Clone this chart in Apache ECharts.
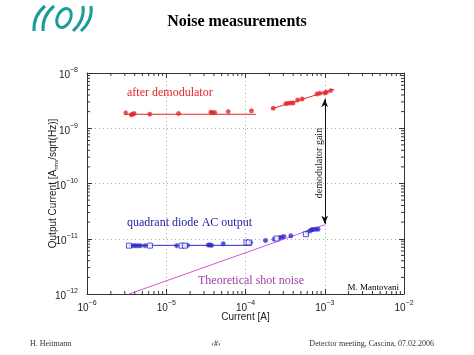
<!DOCTYPE html>
<html><head><meta charset="utf-8">
<script src="https://cdn.jsdelivr.net/npm/echarts@6/dist/echarts.min.js"></script>
<style>html,body{margin:0;padding:0;background:#fff}#c{width:474px;height:355px}</style>
</head><body><div id="c"></div>
<script>
// ---- data ----
const redLowX = [3.08e-6, 3.62e-6, 3.78e-6, 3.92e-6, 6.2e-6, 1.43e-5, 3.66e-5, 3.85e-5, 4.1e-5, 6.05e-5, 1.19e-4];
const redLowY = [1.9e-9, 1.75e-9, 1.8e-9, 1.85e-9, 1.8e-9, 1.85e-9, 1.95e-9, 1.92e-9, 1.92e-9, 2.0e-9, 2.08e-9];
const redHighX = [2.24e-4, 3.23e-4, 3.45e-4, 3.73e-4, 3.99e-4, 4.54e-4, 5.19e-4, 8.0e-4, 8.67e-4, 1.0e-3, 1.05e-3, 1.19e-3];
const redHighY = [2.3e-9, 2.79e-9, 2.83e-9, 2.87e-9, 2.87e-9, 3.25e-9, 3.39e-9, 4.17e-9, 4.3e-9, 4.35e-9, 4.48e-9, 4.8e-9];
const redFit1X = [3.0e-6, 1.35e-4];
const redFit1Y = [1.79e-9, 1.79e-9];
const redFit2X = [2.1e-4, 1.31e-3];
const redFit2Y = [2.23e-9, 5.07e-9];
const blueSqX = [3.39e-6, 6.22e-6, 1.56e-5, 1.72e-5, 1.03e-4, 1.10e-4, 2.47e-4, 5.78e-4];
const blueSqY = [7.5e-12, 7.5e-12, 7.5e-12, 7.5e-12, 8.55e-12, 8.55e-12, 1.01e-11, 1.21e-11];
const blueStX = [3.66e-6, 3.92e-6, 4.15e-6, 4.44e-6, 4.76e-6, 5.39e-6, 1.35e-5, 1.86e-5, 3.39e-5, 3.56e-5, 3.74e-5, 5.24e-5, 1.16e-4, 1.79e-4, 2.30e-4, 2.66e-4, 2.85e-4, 3.05e-4, 3.73e-4, 6.0e-4, 6.49e-4, 6.82e-4, 7.14e-4, 7.73e-4, 8.26e-4];
const blueStY = [7.5e-12, 7.5e-12, 7.5e-12, 7.5e-12, 7.5e-12, 7.5e-12, 7.5e-12, 7.6e-12, 7.7e-12, 7.7e-12, 7.6e-12, 8.1e-12, 8.55e-12, 9.3e-12, 9.85e-12, 1.04e-11, 1.07e-11, 1.10e-11, 1.13e-11, 1.29e-11, 1.39e-11, 1.45e-11, 1.47e-11, 1.49e-11, 1.49e-11];
const blueFitX = [3.3e-6, 1.2e-4];
const blueFitY = [7.6e-12, 7.6e-12];
const shotX = [3.4e-6, 1.0e-3];
const shotY = [1.0e-12, 1.8e-11];
const gainX = [1.0e-3, 1.0e-3];
const gainY = [1.86e-11, 3.4e-9];

const pairs = (xs, ys) => xs.map((x, i) => [x, ys[i]]);
const SANS = 'Liberation Sans';
const SERIF = 'Liberation Serif';
const RED = '#e3262b', BLUE = '#2a2ad0', MAG = '#d653d6';
const TEAL = '#1a9c9c';
const ASTER = 'path://M5,0L5,10M0,5L10,5M1.5,1.5L8.5,8.5M8.5,1.5L1.5,8.5';

function tickFmt(v) {
  const e = Math.round(Math.log10(v));
  return '{b|10}{s|' + String(e).replace('-', '\u2212') + '}';
}
const tickRich = {
  b: {fontFamily: SANS, fontSize: 10, color: '#222', padding: [5, 0, 0, 0]},
  s: {fontFamily: SANS, fontSize: 7, color: '#222', padding: [0, 0, 5, 0]}
};

// minor tick positions (2..9 per decade)
const minorX = [], minorY = [];
for (let d = -6; d < -2; d++) for (let k = 2; k <= 9; k++) minorX.push(k * Math.pow(10, d));
for (let d = -12; d < -8; d++) for (let k = 2; k <= 9; k++) minorY.push(k * Math.pow(10, d));

const chart = echarts.init(document.getElementById('c'), null, {renderer: 'canvas'});
const grid = {left: 87, top: 73, width: 317, height: 221};

const axisCommon = {
  type: 'log', logBase: 10,
  axisLine: {show: true, lineStyle: {color: '#333', width: 1}},
  axisTick: {show: true, inside: true, length: 5, lineStyle: {color: '#333'}},
};

const logoStroke = {stroke: TEAL, lineWidth: 3, fill: null, lineCap: 'butt'};

const option = {
  backgroundColor: '#fff',
  animation: false,
  grid: grid,
  xAxis: [
    Object.assign({}, axisCommon, {
      min: 1e-6, max: 1e-2, position: 'bottom',
      name: 'Current [A]', nameLocation: 'middle', nameGap: 18, nameMoveOverlap: false,
      nameTextStyle: {fontFamily: SANS, fontSize: 10, color: '#222'},
      axisLabel: {formatter: tickFmt, rich: tickRich, margin: 4},
      splitLine: {show: true, lineStyle: {color: '#aaa', type: [1, 3]}}
    }),
    Object.assign({}, axisCommon, {
      min: 1e-6, max: 1e-2, position: 'top',
      axisLabel: {show: false}, splitLine: {show: false}
    })
  ],
  yAxis: [
    Object.assign({}, axisCommon, {
      min: 1e-12, max: 1e-8, position: 'left',
      name: 'Output Current [A{sub|rms}/sqrt(Hz)]', nameLocation: 'middle', nameGap: 28, nameRotate: 90,
      nameMoveOverlap: false,
      nameTextStyle: {fontFamily: SANS, fontSize: 10, color: '#222',
        rich: {sub: {fontFamily: SANS, fontSize: 6, color: '#222', padding: [6, 0, 0, 0]}}},
      axisLabel: {formatter: tickFmt, rich: tickRich, margin: 9},
      splitLine: {show: true, lineStyle: {color: '#aaa', type: [1, 3]}}
    }),
    Object.assign({}, axisCommon, {
      min: 1e-12, max: 1e-8, position: 'right',
      axisLabel: {show: false}, splitLine: {show: false}
    })
  ],
  series: [
    {
      type: 'custom', silent: true, z: 1,
      data: minorX.map(v => [v, 0]).concat(minorY.map(v => [0, v])),
      encode: {x: -1, y: -1},
      renderItem: function (params, api) {
        const cs = params.coordSys;
        const xv = api.value(0), yv = api.value(1);
        const st = {stroke: '#333', lineWidth: 1};
        if (xv > 0) {
          const px = api.coord([xv, 1e-10])[0];
          return {type: 'group', children: [
            {type: 'line', shape: {x1: px, y1: cs.y + cs.height, x2: px, y2: cs.y + cs.height - 3}, style: st},
            {type: 'line', shape: {x1: px, y1: cs.y, x2: px, y2: cs.y + 3}, style: st}
          ]};
        } else {
          const py = api.coord([1e-4, yv])[1];
          return {type: 'group', children: [
            {type: 'line', shape: {x1: cs.x, y1: py, x2: cs.x + 3, y2: py}, style: st},
            {type: 'line', shape: {x1: cs.x + cs.width, y1: py, x2: cs.x + cs.width - 3, y2: py}, style: st}
          ]};
        }
      }
    },
    {type: 'line', data: pairs(shotX, shotY), showSymbol: false, lineStyle: {color: MAG, width: 1}, z: 2},
    {type: 'line', data: pairs(redFit1X, redFit1Y), showSymbol: false, lineStyle: {color: RED, width: 1}, z: 3},
    {type: 'line', data: pairs(redFit2X, redFit2Y), showSymbol: false, lineStyle: {color: RED, width: 1}, z: 3},
    {type: 'line', data: pairs(blueFitX, blueFitY), showSymbol: false, lineStyle: {color: BLUE, width: 1}, z: 3},
    {type: 'scatter', data: pairs(redLowX, redLowY).concat(pairs(redHighX, redHighY)), symbol: ASTER, symbolSize: 5,
      itemStyle: {color: RED, borderColor: RED, borderWidth: 1.3}, z: 4},
    {type: 'scatter', data: pairs(blueStX, blueStY), symbol: ASTER, symbolSize: 5,
      itemStyle: {color: BLUE, borderColor: BLUE, borderWidth: 1.3}, z: 4},
    {type: 'scatter', data: pairs(blueSqX, blueSqY), symbol: 'rect', symbolSize: 5,
      itemStyle: {color: '#fff', borderColor: BLUE, borderWidth: 1}, z: 5},
    {type: 'line', data: [], z: 6,
      markLine: {silent: true, symbol: ['arrow', 'arrow'], symbolSize: [5, 8], label: {show: false},
        lineStyle: {color: '#111', width: 1, type: 'solid'},
        data: [[{coord: [gainX[0], gainY[0]]}, {coord: [gainX[1], gainY[1]]}]]}}
  ],
  graphic: [
    {type: 'text', left: 'center', top: 14, style: {text: 'Noise measurements', fontFamily: SERIF, fontWeight: 'bold', fontSize: 16, fill: '#000'}},
    {type: 'text', x: 127, y: 93, style: {text: 'after demodulator', fontFamily: SERIF, fontSize: 12, fill: RED, verticalAlign: 'middle'}},
    {type: 'text', x: 127, y: 223, style: {text: 'quadrant diode AC output', fontFamily: SERIF, fontSize: 12, fill: '#1c1ca0', verticalAlign: 'middle'}},
    {type: 'text', x: 198, y: 281, style: {text: 'Theoretical shot noise', fontFamily: SERIF, fontSize: 12, fill: '#a040a8', verticalAlign: 'middle'}},
    {type: 'text', x: 399, y: 288, style: {text: 'M. Mantovani', fontFamily: SERIF, fontSize: 9, fill: '#000', align: 'right', verticalAlign: 'middle'}},
    {type: 'text', x: 319, y: 163, rotation: Math.PI / 2, style: {text: 'demodulator gain', fontFamily: SERIF, fontSize: 10, fill: '#111', align: 'center', verticalAlign: 'middle'}},
    {type: 'text', x: 30, y: 344, style: {text: 'H. Heitmann', fontFamily: SERIF, fontSize: 8, fill: '#333', verticalAlign: 'middle'}},
    {type: 'text', x: 216, y: 344, style: {text: '\u2039#\u203a', fontFamily: SERIF, fontSize: 8, fill: '#333', align: 'center', verticalAlign: 'middle'}},
    {type: 'text', x: 434, y: 344, style: {text: 'Detector meeting, Cascina, 07.02.2006', fontFamily: SERIF, fontSize: 8, fill: '#333', align: 'right', verticalAlign: 'middle'}},
    // logo
    {type: 'group', children: [
      {type: 'bezierCurve', shape: {x1: 34, y1: 31, x2: 45, y2: 6, cpx1: 33, cpy1: 16}, style: logoStroke},
      {type: 'bezierCurve', shape: {x1: 43, y1: 31, x2: 54, y2: 6, cpx1: 42, cpy1: 16}, style: logoStroke},
      {type: 'ellipse', shape: {cx: 64, cy: 18, rx: 6.5, ry: 10}, rotation: -0.45, originX: 64, originY: 18, style: {stroke: TEAL, lineWidth: 3, fill: null}},
      {type: 'bezierCurve', shape: {x1: 73, y1: 31, x2: 83, y2: 6, cpx1: 85, cpy1: 20}, style: logoStroke},
      {type: 'bezierCurve', shape: {x1: 81, y1: 31, x2: 91, y2: 6, cpx1: 93, cpy1: 20}, style: logoStroke}
    ]}
  ]
};
chart.setOption(option);
</script>
</body></html>
